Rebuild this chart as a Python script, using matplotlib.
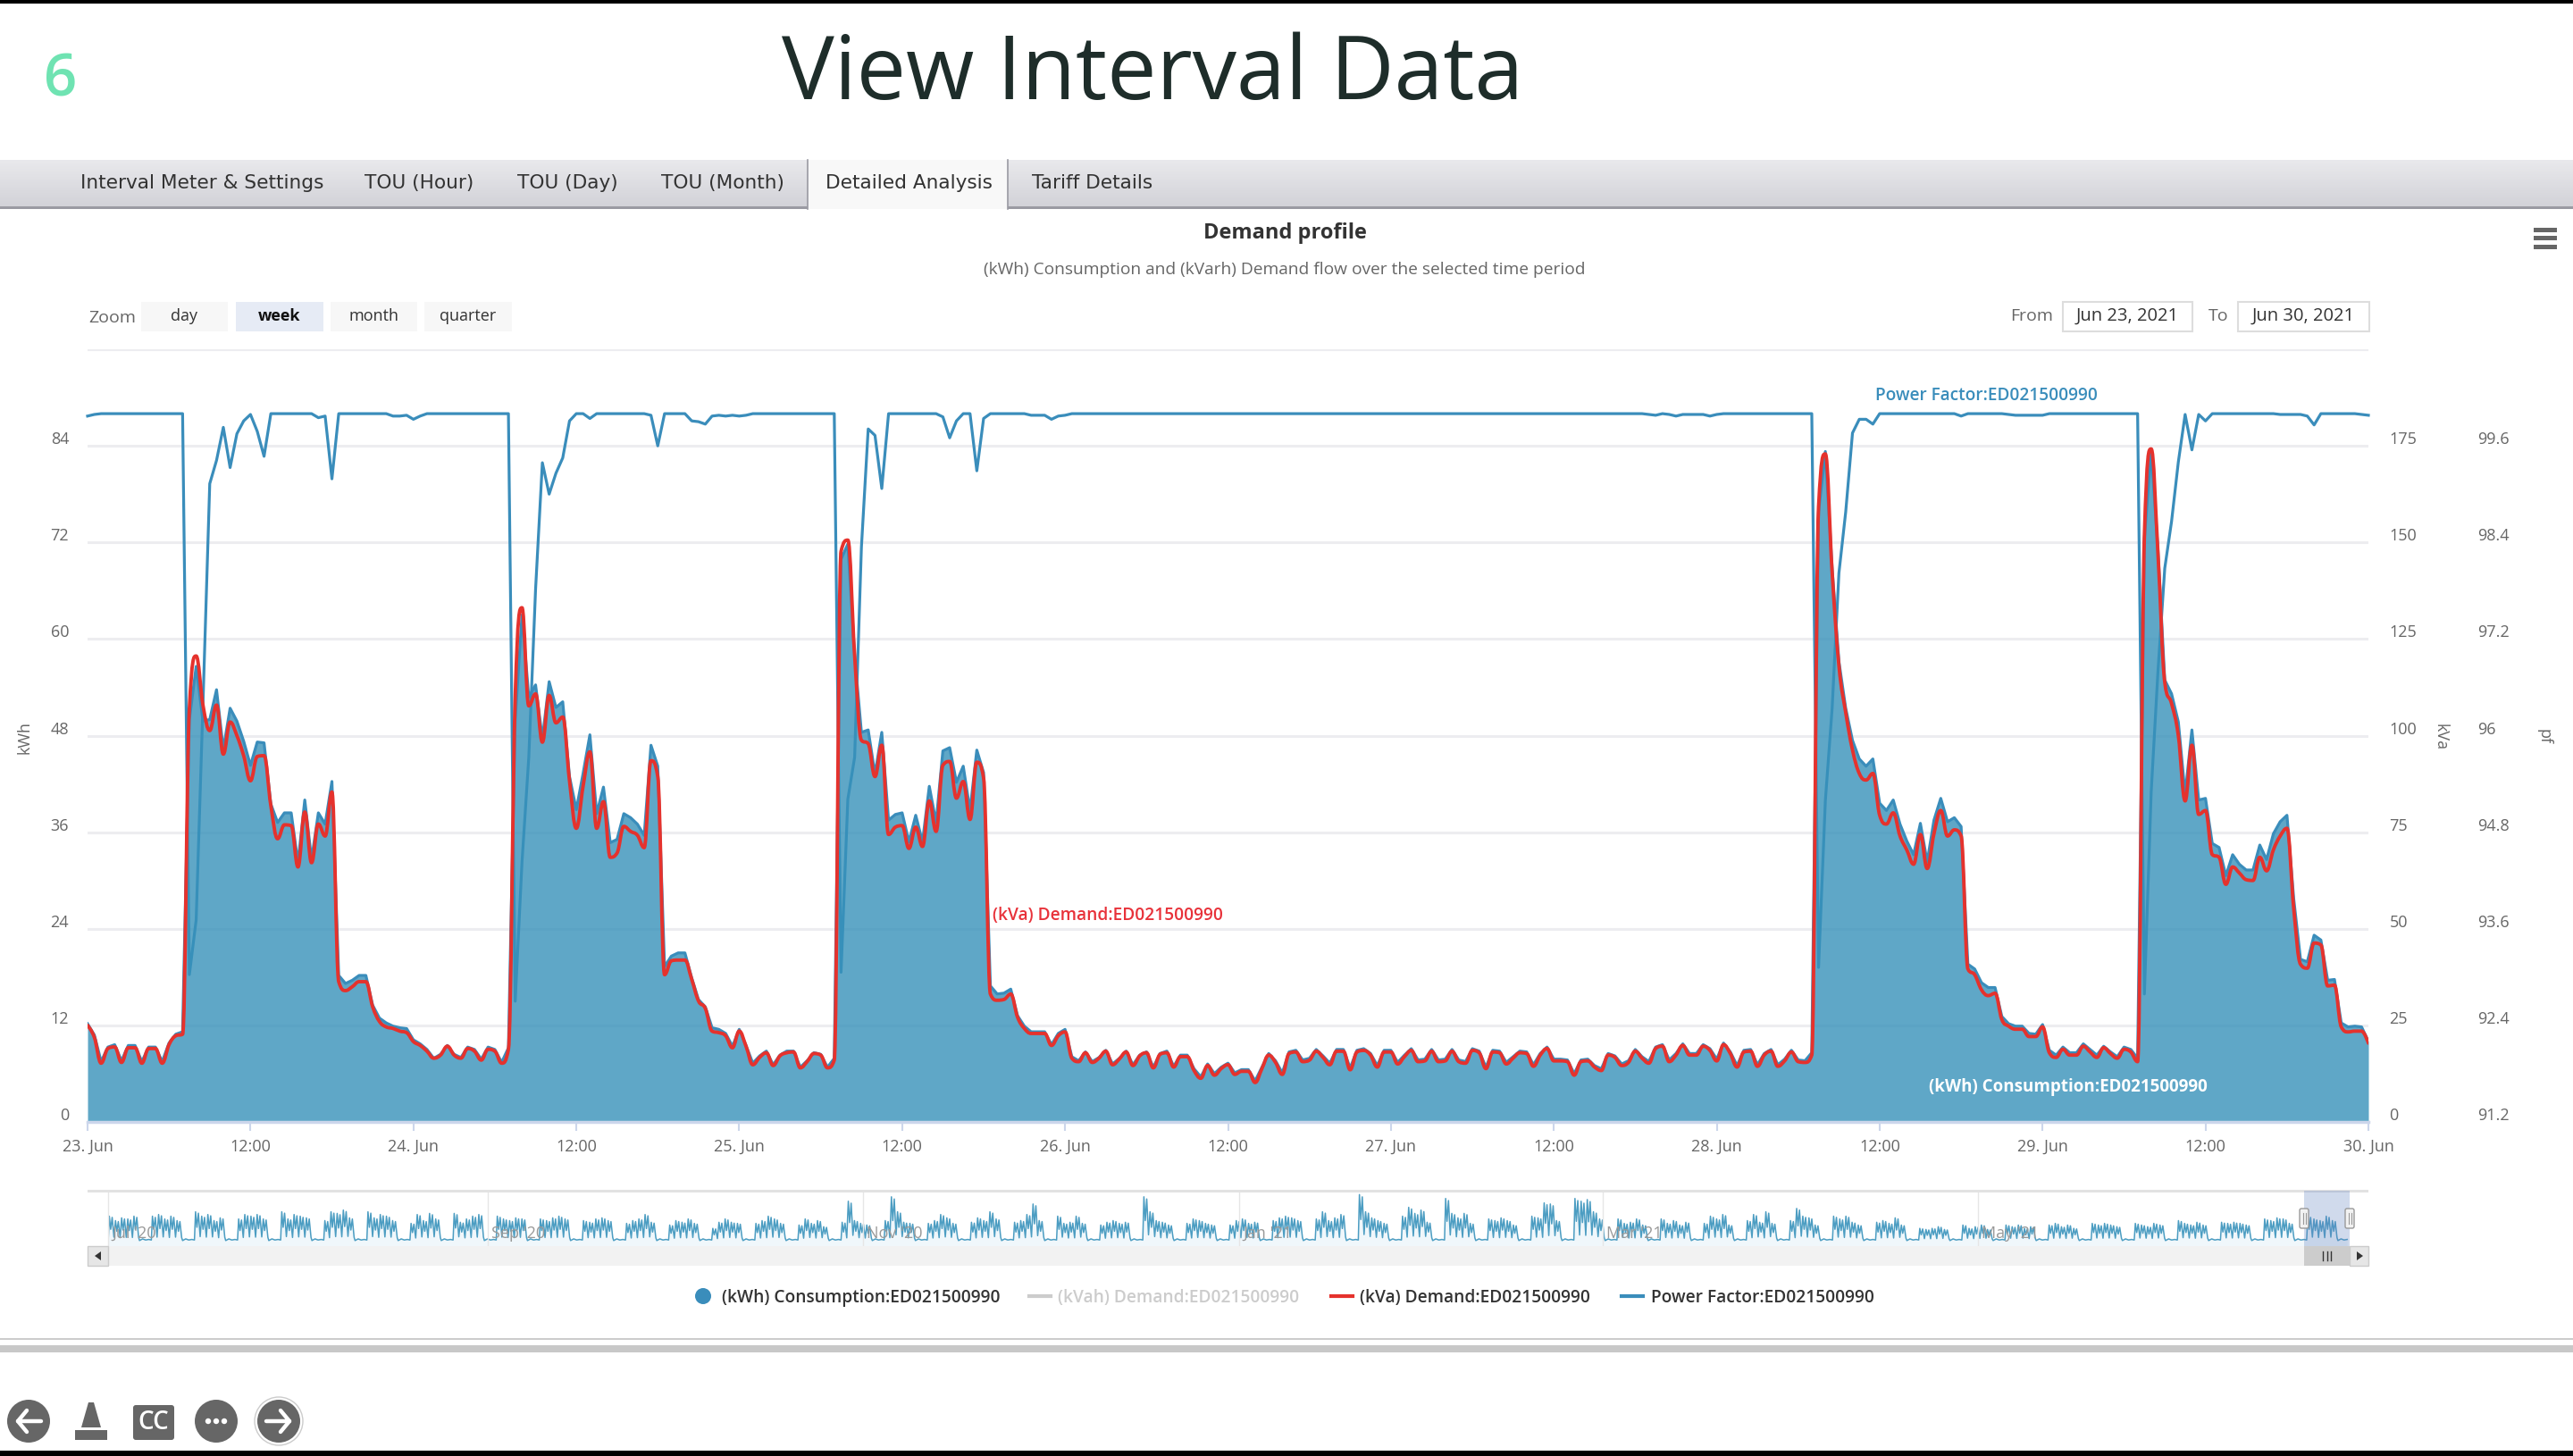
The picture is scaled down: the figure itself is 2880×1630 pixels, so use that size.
import numpy as np
import matplotlib
matplotlib.use("Agg")
import matplotlib.pyplot as plt
from matplotlib.patches import Rectangle, Circle, Polygon, FancyBboxPatch, PathPatch
from matplotlib.path import Path
from matplotlib.colors import LinearSegmentedColormap
from matplotlib.transforms import ScaledTranslation

# ---------- data (half-hourly from 23 Jun 00:00) ----------
kwh_day1 = [12.2,10.8,7.5,9.3,9.6,7.6,9.5,9.5,7.5,9.3,9.3,7.5,9.8,10.9,11.2,50,56.6,49.8,50,53.7,46.3,51.4,49.8,47.3,44.3,47.2,47.1,39.5,37.2,38.4,38.4,32.2,40,32.6,38.4,37,42.3,18.2,17.2,17.6,18.2,18.2,14.5,12.9,12.3,11.9,11.7,11.6]
kwh_day2 = [10.2,9.7,9,7.9,8.4,9.5,8.4,8,9.3,9,7.8,9.3,9,7.4,9.2,50,63,52.8,54.3,47.6,54.7,51.5,52.2,42.9,38.8,43.3,48.1,38.3,41.6,34.7,35.1,38.3,37.8,37,35.6,46.8,44.2,19.3,20.6,21,21,17.9,15.2,14.3,11.7,11.5,11,9.4]
kwh_day3 = [11.5,9.5,7.3,8.2,8.8,7.1,8.3,8.8,8.8,6.8,7.6,8.6,8.4,6.8,7.9,69.9,71.8,58,48.4,48.7,43.2,48.4,37.5,38.2,38.4,34.8,38.1,34.8,41.7,37.2,46.1,46.5,42.2,44.2,38.7,46.2,43.4,16.9,15.9,16,16.5,13.2,11.9,11.2,11.2,11.2,9.6,11]
kwh_day4 = [11.5,8.1,7.6,8.7,7.5,8,8.9,7.2,7.9,8.8,7.1,8.3,8.7,6.8,8.5,8.8,6.9,8.3,8.3,6.6,5.6,7.2,6,6.8,7.3,6.1,6.5,6.5,5.1,6.8,8.5,7.6,6.1,8.7,8.9,7.7,7.9,9,8.2,7.3,9,9,6.7,8.9,9.1,8.5,7,8.9]
kwh_day5 = [8.9,7.4,8.3,9.1,7.7,7.8,9,7.7,7.8,9,7.7,7.5,9.1,8.8,6.8,8.9,8.8,7.4,8.1,8.8,8.7,7.1,8.5,9.3,7.8,7.8,7.7,6,7.7,7.8,7,6.6,8.5,8.2,7.2,7.6,9,8.1,7.5,9.3,9.6,7.7,8.5,9.7,8.5,8.5,9.6,9.1]
kwh_day6 = [7.8,9.8,8.7,7,8.9,9,7.1,8.5,9,7.1,7.8,8.9,7.7,7.6,8.6,75.8,83.3,68.8,57.2,51.4,47.4,45.1,44.2,45.1,39.6,38.7,40,37,34.9,33.2,37.1,32.3,37.5,40.2,37.3,37.8,36.7,19.6,19,17.3,16.7,16.7,13.1,12.2,11.9,11.9,11,10.9]
kwh_day7 = [12.1,8.9,8.3,9.3,8.6,8.6,9.7,9,8.3,9.4,8.7,8.1,9.3,9,7.9,72.5,83.5,71,54.9,53.2,49.7,40.7,48.7,40,40.2,34.6,34.1,30.6,33.2,32,31.3,31.3,34.4,32.6,35.8,37.3,38.1,27.7,20.2,19.9,23.2,22.6,17.6,17.7,12.3,11.8,11.9,11.8,10]

kva_day1 = [25.0,21.9,15.2,19.0,19.4,15.4,19.2,19.2,15.2,19.0,19.0,15.2,20.0,22.3,22.7,107.1,120.6,107.9,101.3,107.9,95.2,103.5,100.0,94.8,88.3,94.6,94.8,81.9,73.3,76.9,76.7,66.0,80.2,67.1,77.1,74.0,85.4,36.3,34.0,35.0,36.3,36.3,29.8,26.0,24.6,24.2,23.5,23.1]
kva_day2 = [20.8,19.8,18.3,16.5,17.3,19.6,17.3,16.5,19.0,18.3,16.0,18.8,18.3,15.2,18.8,110.0,133.1,107.7,110.8,98.3,110.4,103.3,104.8,88.3,76.0,86.9,95.8,76.0,82.9,68.5,69.6,76.5,75.2,74.2,71.0,93.5,89.4,38.1,41.7,41.9,41.9,36.9,31.3,29.4,23.5,23.1,22.3,19.2]
kva_day3 = [23.5,19.6,14.8,16.7,17.9,14.6,17.1,17.9,18.1,14.0,15.6,17.7,17.3,14.0,16.0,147.7,150.6,120.8,98.8,97.9,89.4,97.5,74.4,76.3,76.7,70.8,76.3,71.3,83.1,75.2,92.3,93.3,83.8,88.1,78.3,93.1,89.0,33.1,31.5,31.7,33.1,27.1,24.2,22.9,22.9,22.9,19.8,22.3]
kva_day4 = [23.3,16.5,15.6,17.9,15.4,16.5,18.3,14.8,16.3,18.1,14.6,17.1,17.9,14.0,17.5,17.9,14.2,16.9,16.9,13.3,11.3,14.6,12.1,13.8,14.8,12.3,13.1,13.1,10.2,13.8,17.3,15.4,12.3,17.7,18.1,15.6,16.0,18.3,16.7,14.8,18.3,18.3,13.5,18.1,18.5,17.3,14.2,18.1]
kva_day5 = [18.1,15.0,16.9,18.5,15.6,15.8,18.3,15.6,15.8,18.3,15.6,15.2,18.5,17.9,13.8,18.1,17.9,15.0,16.5,17.9,17.7,14.4,17.3,19.0,15.8,15.8,15.6,12.1,15.6,15.8,14.2,13.3,17.3,16.7,14.6,15.4,18.3,16.5,15.2,19.0,19.6,15.6,17.3,19.8,17.3,17.3,19.6,18.5]
kva_day6 = [15.8,20.0,17.7,14.2,18.1,18.3,14.4,17.3,18.3,14.4,15.8,18.1,15.6,15.4,17.3,159.2,172.9,142.3,118.1,106.0,96.3,90.2,88.5,90.2,79.4,77.1,80.0,74.0,70.4,66.7,74.4,65.6,74.6,80.6,74.0,75.6,74.0,39.6,38.1,34.2,32.7,33.3,26.5,24.8,24.0,24.0,22.1,22.1]
kva_day7 = [24.6,17.9,16.7,18.8,17.3,17.3,19.6,18.1,16.7,19.2,17.7,16.5,18.8,18.1,15.6,151.9,174.2,147.1,113.8,108.3,100.0,83.1,97.5,79.6,80.6,69.2,68.5,61.5,66.0,64.4,62.7,62.5,68.5,65.0,70.4,74.0,76.0,55.2,40.8,39.8,46.3,45.8,35.2,35.4,24.6,23.3,23.5,23.5,20.4]

pf_hours = [0,0.5,1,7,7.5,8,8.5,9,9.5,10,10.5,11,11.5,12,12.5,13,13.5,16.5,17,17.5,18,18.5,22,22.5,23,23.5,24,24.5,25,
            31,31.5,32,32.5,33,33.5,34,34.5,35,35.5,36,36.5,37,37.5,41,41.5,42,42.5,44,44.5,45,45.5,46,46.5,47,47.5,48,48.5,49,
            55,55.5,56,56.5,57,57.5,58,58.5,59,62.5,63,63.5,64,64.5,65,65.5,66,66.5,69,69.5,70,70.5,71,71.5,72,72.5,73,
            114.5,115,115.5,116,116.5,117,117.5,118,118.5,119,119.5,120,120.5,
            127,127.5,128,128.5,129,129.5,130,130.5,131,131.5,132,137.5,138,138.5,141,142,144,144.5,
            151,151.5,152,152.5,153,153.5,154,154.5,155,155.5,156,156.5,161,161.5,163,163.5,164,164.5,167,168]
pf_values = [99.97,99.99,100,100,93.03,93.71,96.39,99.13,99.42,99.83,99.33,99.75,99.91,99.99,99.78,99.47,100,100,99.95,99.97,99.19,100,100,99.97,99.97,99.98,99.93,99.97,100,
             100,92.7,94.43,95.73,97.82,99.39,99,99.26,99.45,99.91,100,100,99.94,100,100,99.98,99.6,100,100,99.91,99.9,99.87,99.97,99.98,99.97,99.98,99.97,99.98,100,
             100,93.06,95.21,95.73,98.34,99.81,99.73,99.07,100,100,99.96,99.7,99.91,100,100,99.29,99.94,100,100,99.98,99.98,99.98,99.93,99.97,99.98,100,100,
             100,99.99,99.98,100,99.99,99.97,99.99,99.99,99.99,99.99,99.97,99.99,100,
             100,93.12,95.19,96.34,98.02,98.78,99.76,99.93,99.93,99.87,100,100,99.97,100,100,99.98,99.98,100,
             100,92.79,95.3,96.8,98.08,98.66,99.4,99.99,99.55,99.99,99.91,100,100,99.99,99.99,99.97,99.86,100,100,99.98]

kwh_ticks = [0,12,24,36,48,60,72,84,96]
kva_ticks = [0,25,50,75,100,125,150,175,200]
pf_ticks = [91.2,92.4,93.6,94.8,96,97.2,98.4,99.6,100.8]
time_ticks = list(range(0,169,12))
time_labels = ["23. Jun","12:00","24. Jun","12:00","25. Jun","12:00","26. Jun","12:00","27. Jun","12:00","28. Jun","12:00","29. Jun","12:00","30. Jun"]

# navigator: weekday peak of each week (Mon..Fri), one row per week
nav_peaks = [54,46,51,49,54, 54,57,49,54,46, 62,54,57,46,51, 49,57,54,57,49, 62,49,57,54,51, 46,62,59,65,51,
 62,51,57,54,46, 41,57,46,59,49, 59,43,49,54,57, 54,49,46,51,49, 49,46,51,54,49, 46,43,49,51,46,
 41,46,49,57,43, 38,46,43,49,41, 32,43,49,43,41, 41,46,54,49,41, 38,49,41,46,35, 43,81,46,41,38,
 46,89,62,43,41, 41,46,57,51,41, 43,51,46,62,49, 43,46,57,76,46, 54,41,43,54,41, 38,43,46,41,43,
 89,62,46,43,38, 41,49,46,41,38, 38,46,49,41,43, 46,51,54,51,46, 49,62,46,51,57, 93,62,51,46,41,
 54,70,59,65,43, 86,59,51,59,41, 49,46,51,46,38, 54,51,78,76,46, 86,81,84,62,49, 49,41,43,49,38,
 49,41,46,38,43, 41,54,49,57,38, 46,57,43,62,41, 46,68,54,51,38, 54,49,54,43,38, 43,46,41,51,38,
 32,30,32,35,30, 38,32,35,38,30, 38,35,38,32,35, 38,41,35,38,32, 41,38,41,38,35, 41,38,35,41,38,
 46,41,38,43,38, 43,41,43,41,38, 49,46,51,49,41, 54,49,46,54,46]
nav_base = 11
nav_months = ["Jul '20","Sep '20","Nov '20","Jan '21","Mar '21","May '21"]

tab_labels = ["Interval Meter & Settings","TOU (Hour)","TOU (Day)","TOU (Month)","Detailed Analysis","Tariff Details"]

# ---------- figure ----------
W, H = 2880, 1630
DPI = 100
fig = plt.figure(figsize=(W/DPI, H/DPI), dpi=DPI, facecolor="white")
FONT = "Open Sans"
plt.rcParams["font.family"] = [FONT, "DejaVu Sans"]

def box(l, t, r, b):
    return [l/W, 1-b/H, (r-l)/W, (b-t)/H]

def spline_path(xs, ys, k=1.5):
    """Smooth path through the points, the way the chart's spline series is drawn."""
    verts = [(xs[0], ys[0])]
    codes = [Path.MOVETO]
    n = len(xs)
    d = k + 1
    lx, ly, rx, ry = np.array(xs, float), np.array(ys, float), np.array(xs, float), np.array(ys, float)
    for i in range(1, n-1):
        lx[i] = (k*xs[i] + xs[i-1]) / d
        ly[i] = (k*ys[i] + ys[i-1]) / d
        rx[i] = (k*xs[i] + xs[i+1]) / d
        ry[i] = (k*ys[i] + ys[i+1]) / d
        c = (ry[i]-ly[i])*(rx[i]-xs[i])/(rx[i]-lx[i]) + ys[i] - ry[i]
        ly[i] += c
        ry[i] += c
        if ly[i] > max(ys[i-1], ys[i]):
            ly[i] = max(ys[i-1], ys[i]); ry[i] = 2*ys[i]-ly[i]
        elif ly[i] < min(ys[i-1], ys[i]):
            ly[i] = min(ys[i-1], ys[i]); ry[i] = 2*ys[i]-ly[i]
        if ry[i] > max(ys[i+1], ys[i]):
            ry[i] = max(ys[i+1], ys[i]); ly[i] = 2*ys[i]-ry[i]
        elif ry[i] < min(ys[i+1], ys[i]):
            ry[i] = min(ys[i+1], ys[i]); ly[i] = 2*ys[i]-ry[i]
    for i in range(1, n):
        verts += [(rx[i-1], ry[i-1]), (lx[i], ly[i]), (xs[i], ys[i])]
        codes += [Path.CURVE4]*3
    return Path(verts, codes)

BLUE = "#3A8DBB"
FILL = "#3791BA"
RED = "#E5322D"
GRID = "#EDEDF0"
TICK = "#666666"

rect = box(98, 391, 2651, 1256)
ax_pf = fig.add_axes(rect, zorder=1)
ax = fig.add_axes(rect, zorder=2)
ax_kva = fig.add_axes(rect, zorder=3)
for a in (ax, ax_kva):
    a.patch.set_visible(False)
for a in (ax, ax_kva, ax_pf):
    a.set_xlim(0, 168)
    for s in a.spines.values():
        s.set_visible(False)

hours = np.arange(337) * 0.5
kwh = np.array(kwh_day1 + kwh_day2 + kwh_day3 + kwh_day4 + kwh_day5 + kwh_day6 + kwh_day7)
kva = np.array(kva_day1 + kva_day2 + kva_day3 + kva_day4 + kva_day5 + kva_day6 + kva_day7)

ax_pf.set_ylim(91.2, 100.8)
ax_pf.yaxis.tick_right()
ax_pf.set_yticks(pf_ticks)
ax_pf.set_yticklabels([str(v) if v != int(v) else str(int(v)) for v in pf_ticks[:-1]] + [""])
ax_pf.tick_params(axis="y", length=0, pad=88, labelsize=13, labelcolor=TICK)
ax_pf.grid(axis="y", color=GRID, lw=2.2)
ax_pf.set_axisbelow(True)
ax_pf.tick_params(axis="x", bottom=False, labelbottom=False)
ax_pf.plot(pf_hours, pf_values, color=BLUE, lw=2.3, solid_joinstyle="round", clip_on=False)

ax.set_ylim(0, 96)
ax.set_yticks(kwh_ticks)
ax.set_yticklabels([str(v) for v in kwh_ticks[:-1]] + [""])
ax.tick_params(axis="y", length=0, pad=15, labelsize=13, labelcolor=TICK)
ax.fill_between(hours, 0, kwh, color=FILL, alpha=0.8, lw=0)
ax.plot(hours, kwh, color=BLUE, lw=2.3, solid_joinstyle="round")
ax.set_xticks(time_ticks)
ax.set_xticklabels(time_labels)
ax.tick_params(axis="x", length=7, width=1.5, color="#CCD6EB", pad=6.5, labelsize=13, labelcolor=TICK)
ax.axhline(0, color="#CCD6EB", lw=2.5, clip_on=False)

ax_kva.set_ylim(0, 200)
ax_kva.yaxis.tick_right()
ax_kva.set_yticks(kva_ticks)
ax_kva.set_yticklabels([str(v) for v in kva_ticks[:-1]] + [""])
ax_kva.tick_params(axis="y", length=0, pad=17, labelsize=13, labelcolor=TICK)
ax_kva.tick_params(axis="x", bottom=False, labelbottom=False)
ax_kva.add_patch(PathPatch(spline_path(hours, kva), fc="none", ec=RED, lw=2.8,
                           joinstyle="round", capstyle="round"))

off = ScaledTranslation(0, 7/DPI, fig.dpi_scale_trans)
for a in (ax, ax_kva, ax_pf):
    for lab in a.get_yticklabels():
        lab.set_transform(lab.get_transform() + off)
        lab.set_verticalalignment("center")

# navigator
ax_nav = fig.add_axes(box(121, 1333, 2630, 1395), zorder=1)
ax_nav.axis("off")
ax_nav.set_xlim(0, 364)
ax_nav.set_ylim(0, 100)
peaks = np.array(nav_peaks)
nx, ny = [], []
for w in range(52):
    nx += [w*7 + 0.02]
    ny += [nav_base]
    for d in range(5):
        p = peaks[w*5 + d]
        day = w*7 + d
        nx += [day + 0.2, day + 0.42, day + 0.66, day + 0.95]
        ny += [p, p - 0.55*(p - nav_base), p - 0.05*(p - nav_base), nav_base + 0.12*(p - nav_base)]
    nx += [w*7 + 5.1, w*7 + 5.6, w*7 + 6.1, w*7 + 6.6]
    ny += [nav_base - 1, nav_base + 2, nav_base, nav_base + 1]
ax_nav.fill_between(nx, 0, ny, color="#F0F7FB", lw=0)
ax_nav.plot(nx, ny, color="#4C9DC2", lw=1.1)

# overlay: page furniture and labels
ui = fig.add_axes([0, 0, 1, 1], zorder=10)
ui.patch.set_visible(False)
ui.axis("off")
grad = np.linspace(0, 1, 64).reshape(-1, 1)
cm = LinearSegmentedColormap.from_list("t", ["#E9E9EC", "#D2D2D8"])
ui.imshow(grad, extent=(0, W, 232, 179), cmap=cm, aspect="auto", zorder=0)
ui.set_xlim(0, W)
ui.set_ylim(H, 0)

def rc(x0, y0, x1, y1, fc, ec="none", lw=0, z=1):
    ui.add_patch(Rectangle((x0, y0), x1-x0, y1-y0, fc=fc, ec=ec, lw=lw, zorder=z))

def tx(x, y, s, size=13, color="#333333", ha="left", va="center", weight="normal", family=None, rot=0):
    ui.text(x, y, s, fontsize=size, color=color, ha=ha, va=va, fontweight=weight,
            family=family or FONT, rotation=rot, zorder=6)

rc(0, 0, W, 4, "#000000", z=5)
rc(0, 1624, W, H, "#000000", z=5)
tx(68, 91, "6", size=47, color="#6FE3B2", ha="center", weight="semibold")
tx(1290, 85, "View Interval Data", size=71, color="#1E2D2A", ha="center")

rc(0, 231, W, 234, "#9A9AA2", z=1)
rc(904, 179, 1128, 234, "#F8F8F8", z=2)
ui.plot([904, 904], [179, 234], color="#9A9AA2", lw=1.2, zorder=3)
ui.plot([1128, 1128], [179, 234], color="#9A9AA2", lw=1.2, zorder=3)
tab_pos = [90, 408, 579, 740, 924, 1155]
for s, x in zip(tab_labels, tab_pos):
    tx(x, 205, s, size=15.6, color="#333333", family="DejaVu Sans")

tx(1438, 261, "Demand profile", size=17, color="#333333", ha="center", weight="bold")
tx(1438, 302, "(kWh) Consumption and (kVarh) Demand flow over the selected time period", size=13.8, color="#666666", ha="center")

tx(99, 356, "Zoom", size=14, color="#666666")
btns = [(158, 255, "day"), (264, 362, "week"), (370, 467, "month"), (475, 573, "quarter")]
for x0, x1, s in btns:
    sel = s == "week"
    rc(x0, 338, x1, 371, "#E6EBF5" if sel else "#F7F7F7")
    tx((x0+x1)/2, 354, s, size=13, color="#111111" if sel else "#333333", ha="center", weight="bold" if sel else "normal")
tx(2298, 354, "From", size=14, color="#666666", ha="right")
tx(2472, 354, "To", size=14, color="#666666")
for x0, x1, s in [(2309, 2454, "Jun 23, 2021"), (2505, 2652, "Jun 30, 2021")]:
    rc(x0, 338, x1, 371, "white", ec="#DDDDDD", lw=1.5)
    tx((x0+x1)/2, 354, s, size=14.5, color="#333333", ha="center")
for y in (257, 266, 276):
    rc(2836, y-2.5, 2862, y+2.5, "#666666")

tx(28, 825, "kWh", size=13, color=TICK, ha="center", rot=90)
tx(2732, 825, "kVa", size=13, color=TICK, ha="center", rot=270)
tx(2847, 825, "pf", size=13, color=TICK, ha="center", rot=270)

tx(2223, 443, "Power Factor:ED021500990", size=13.7, color="#3A8DBB", ha="center", weight="semibold")
tx(1111, 1025, "(kVa) Demand:ED021500990", size=13.8, color="#E8323A", weight="semibold")
tx(2315, 1217, "(kWh) Consumption:ED021500990", size=13.5, color="white", ha="center", weight="bold")

# navigator furniture
rc(98, 1332, 2651, 1335, "#E2E2E2", z=3)
for x, s in zip([121, 546, 966, 1387, 1794, 2214], nav_months):
    ui.plot([x, x], [1333, 1395], color="#E6E6E6", lw=1, zorder=1)
    tx(x+4, 1381, s, size=13, color="#999999")
rc(98, 1395, 2651, 1417, "#F2F2F2", z=2)
rc(98, 1395, 121, 1417, "#E6E6E6", ec="#CCCCCC", lw=1, z=3)
ui.add_patch(Polygon([[113, 1401], [113, 1411], [106, 1406]], fc="#333333", zorder=4))
rc(2579, 1333, 2630, 1395, "#6685C2", z=3)
ui.patches[-1].set_alpha(0.3)
rc(2579, 1395, 2630, 1417, "#CCCCCC", z=3)
for x in (2600, 2604.5, 2609):
    ui.plot([x, x], [1401, 1411], color="#333333", lw=1, zorder=4)
rc(2630, 1395, 2651, 1417, "#E6E6E6", ec="#CCCCCC", lw=1, z=3)
ui.add_patch(Polygon([[2638, 1401], [2638, 1411], [2645, 1406]], fc="#333333", zorder=4))
for x in (2579, 2630):
    ui.add_patch(FancyBboxPatch((x-5, 1353), 10, 22, boxstyle="round,pad=0,rounding_size=2",
                                fc="#F2F2F2", ec="#999999", lw=1, zorder=5))
    ui.plot([x-1.5, x-1.5], [1358, 1370], color="#999999", lw=.8, zorder=6)
    ui.plot([x+1.5, x+1.5], [1358, 1370], color="#999999", lw=.8, zorder=6)

# legend
ui.add_patch(Circle((787, 1451), 9, fc=BLUE, zorder=5))
tx(808, 1453, "(kWh) Consumption:ED021500990", size=13.75, color="#333333", weight="semibold")
ui.plot([1152, 1176], [1451, 1451], color="#CCCCCC", lw=3, zorder=5)
tx(1184, 1453, "(kVah) Demand:ED021500990", size=13.75, color="#CCCCCC", weight="semibold")
ui.plot([1490, 1514], [1451, 1451], color=RED, lw=3, zorder=5)
tx(1522, 1453, "(kVa) Demand:ED021500990", size=13.75, color="#333333", weight="semibold")
ui.plot([1815, 1839], [1451, 1451], color=BLUE, lw=3, zorder=5)
tx(1848, 1453, "Power Factor:ED021500990", size=13.75, color="#333333", weight="semibold")

# rules
rc(0, 1498, W, 1500, "#CCCCCC")
rc(0, 1506, W, 1514, "#C8C8C8")

# player icons
G = "#666666"
for cx in (32, 242, 312):
    ui.add_patch(Circle((cx, 1591), 24, fc=G, zorder=3))
ui.add_patch(Circle((312, 1591), 27, fc="none", ec="#CCCCCC", lw=1, zorder=3))
ui.plot([46, 20, 30], [1591, 1591, 1579], color="white", lw=3.2, zorder=4, solid_capstyle="round")
ui.plot([20, 30], [1591, 1603], color="white", lw=3.2, zorder=4, solid_capstyle="round")
ui.plot([298, 324, 314], [1591, 1591, 1579], color="white", lw=3.2, zorder=4, solid_capstyle="round")
ui.plot([324, 314], [1591, 1603], color="white", lw=3.2, zorder=4, solid_capstyle="round")
for dx in (-9, 0, 9):
    ui.add_patch(Circle((242+dx, 1591), 3.2, fc="white", zorder=4))
ui.add_patch(Polygon([[99, 1570], [105, 1570], [113, 1598], [91, 1598]], fc=G, zorder=3))
rc(84, 1601, 120, 1612, G, z=3)
ui.add_patch(FancyBboxPatch((149, 1573), 46, 39, boxstyle="round,pad=0,rounding_size=3", fc=G, ec="none", zorder=3))
tx(172, 1592, "CC", size=20, color="white", ha="center", weight="semibold")

fig.savefig("out.png", dpi=DPI)
